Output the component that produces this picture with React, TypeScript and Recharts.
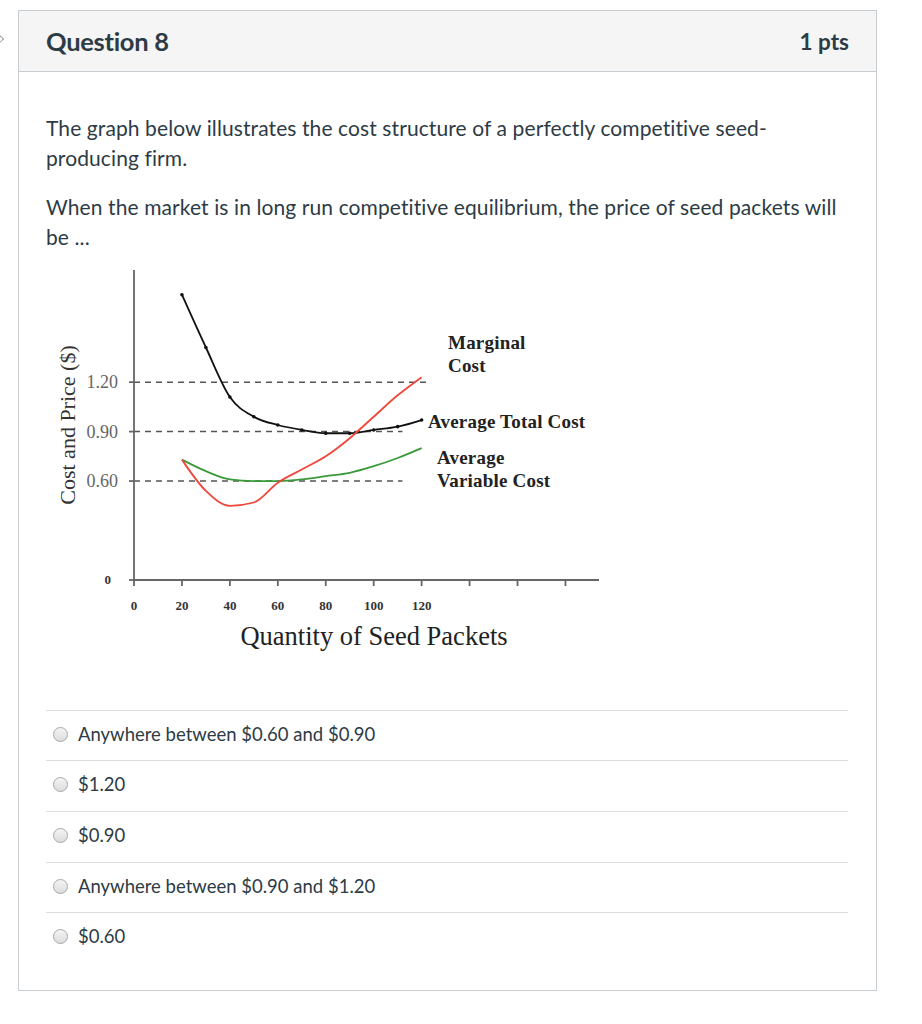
import React from "react";
import { LineChart, Line, XAxis, YAxis, ReferenceLine } from "recharts";

const quantity = [20, 30, 40, 50, 60, 70, 80, 90, 100, 110, 120];
const averageTotalCost = [1.73, 1.41, 1.11, 0.99, 0.94, 0.91, 0.89, 0.89, 0.91, 0.93, 0.97];
const marginalCost = [0.73, 0.54, 0.45, 0.47, 0.59, 0.67, 0.75, 0.86, 0.99, 1.12, 1.23];
const averageVariableCost = [0.73, 0.66, 0.61, 0.6, 0.6, 0.61, 0.63, 0.65, 0.69, 0.74, 0.8];

const xTicks = [0, 20, 40, 60, 80, 100, 120, 140, 160, 180];
const lastLabelledX = 120;
const yTicks = [0, 0.6, 0.9, 1.2];
const priceLevels = [1.2, 0.9, 0.6];
const priceLineEnds = [123, 112, 112];

const answers = [
  "Anywhere between $0.60 and $0.90",
  "$1.20",
  "$0.90",
  "Anywhere between $0.90 and $1.20",
  "$0.60",
];

const chartData = quantity.map((q, i) => ({
  q,
  atc: averageTotalCost[i],
  mc: marginalCost[i],
  avc: averageVariableCost[i],
}));

const serif = "'Liberation Serif', 'DejaVu Serif', serif";
const lato = "Lato, 'Open Sans', sans-serif";
const textColor = "#2d3b45";

const XTick = (props: any) => {
  const { x, y, payload } = props;
  if (payload.value > lastLabelledX) return null;
  return (
    <text x={x} y={y + 22} textAnchor="middle" fontFamily={serif} fontWeight="bold" fontSize={13} fill="#333">
      {payload.value}
    </text>
  );
};

const YTick = (props: any) => {
  const { x, y, payload } = props;
  if (payload.value === 0) {
    return (
      <text x={x - 7} y={y + 4} textAnchor="end" fontFamily={serif} fontWeight="bold" fontSize={13} fill="#333">
        0
      </text>
    );
  }
  return (
    <text x={x} y={y + 6} textAnchor="end" fontFamily={serif} fontSize={18} fill="#666">
      {payload.value.toFixed(2)}
    </text>
  );
};

const curveLabel: React.CSSProperties = {
  position: "absolute",
  fontFamily: serif,
  fontWeight: "bold",
  fontSize: 19,
  lineHeight: "23px",
  color: "#222",
  letterSpacing: 0.2,
  whiteSpace: "nowrap",
};

export default function App() {
  return (
    <div style={{ position: "absolute", left: 0, top: 0, width: 922, height: 1024, background: "#fff", fontFamily: lato, color: textColor }}>
      {/* little chevron cut off at the left edge */}
      <div
        style={{
          position: "absolute",
          left: -8,
          top: 34,
          width: 9,
          height: 9,
          borderTop: "1.5px solid #9aa4ab",
          borderRight: "1.5px solid #9aa4ab",
          transform: "rotate(45deg)",
        }}
      />

      {/* question card */}
      <div style={{ position: "absolute", left: 18, top: 10, width: 857, height: 979, border: "1px solid #c7cdd1" }}>
        <div
          style={{
            height: 60,
            background: "#f5f5f5",
            borderBottom: "1px solid #c7cdd1",
            display: "flex",
            alignItems: "center",
            justifyContent: "space-between",
            padding: "0 27px 0 27px",
          }}
        >
          <span style={{ fontSize: 25.5, fontWeight: 700, letterSpacing: -0.3 }}>Question 8</span>
          <span style={{ fontSize: 22.5, fontWeight: 700 }}>1 pts</span>
        </div>
      </div>

      <div style={{ position: "absolute", left: 46, top: 113, width: 830, fontSize: 21, lineHeight: "30px", letterSpacing: 0.1 }}>
        The graph below illustrates the cost structure of a perfectly competitive seed-
        <br />
        producing firm.
      </div>
      <div style={{ position: "absolute", left: 46, top: 192, width: 830, fontSize: 21, lineHeight: "30px", letterSpacing: 0.1 }}>
        When the market is in long run competitive equilibrium, the price of seed packets will
        <br />
        be ...
      </div>

      {/* chart */}
      <div style={{ position: "absolute", left: 40, top: 255 }}>
        <LineChart width={580} height={410} data={chartData} margin={{ top: 15, right: 21, left: 44, bottom: 55 }}>
          <XAxis
            dataKey="q"
            type="number"
            domain={[0, 194]}
            ticks={xTicks}
            interval={0}
            tick={<XTick />}
            tickSize={6}
            height={30}
            stroke="#666"
            strokeWidth={1.8}
            allowDataOverflow
          />
          <YAxis
            type="number"
            domain={[0, 1.88]}
            ticks={yTicks}
            interval={0}
            tick={<YTick />}
            tickSize={5}
            tickMargin={11}
            width={50}
            stroke="#666"
            strokeWidth={1.8}
            allowDataOverflow
          />
          {priceLevels.map((p, i) => (
            <ReferenceLine
              key={p}
              segment={[
                { x: 0, y: p },
                { x: priceLineEnds[i], y: p },
              ]}
              stroke="#555"
              strokeWidth={1.5}
              strokeDasharray="6 5"
            />
          ))}
          <Line
            dataKey="atc"
            type="monotone"
            stroke="#111"
            strokeWidth={1.8}
            dot={{ r: 0.9, fill: "#111", stroke: "#111" }}
            isAnimationActive={false}
          />
          <Line
            dataKey="avc"
            type="monotone"
            stroke="#3a9a3a"
            strokeWidth={1.8}
            dot={false}
            isAnimationActive={false}
          />
          <Line
            dataKey="mc"
            type="monotone"
            stroke="#f0473c"
            strokeWidth={1.8}
            dot={false}
            isAnimationActive={false}
          />
        </LineChart>
      </div>

      <div style={{ ...curveLabel, left: 448, top: 331 }}>
        Marginal
        <br />
        Cost
      </div>
      <div style={{ ...curveLabel, left: 428, top: 410 }}>Average Total Cost</div>
      <div style={{ ...curveLabel, left: 437, top: 446 }}>
        Average
        <br />
        Variable Cost
      </div>

      <div
        style={{
          position: "absolute",
          left: 68,
          top: 425,
          transform: "translate(-50%, -50%) rotate(-90deg)",
          fontFamily: serif,
          fontSize: 22,
          color: "#333",
          whiteSpace: "nowrap",
        }}
      >
        Cost and Price ($)
      </div>
      <div
        style={{
          position: "absolute",
          left: 374,
          top: 636,
          transform: "translate(-50%, -50%)",
          fontFamily: serif,
          fontSize: 26.5,
          color: "#222",
          whiteSpace: "nowrap",
        }}
      >
        Quantity of Seed Packets
      </div>

      {/* answers */}
      {answers.map((a, i) => {
        const top = [710, 760, 811, 862, 912][i];
        return (
          <div key={a} style={{ position: "absolute", left: 46, top, width: 802, height: 50, borderTop: "1.5px solid #dcdfe1" }}>
            <div
              style={{
                position: "absolute",
                left: 7,
                top: 16,
                width: 13,
                height: 13,
                borderRadius: "50%",
                border: "1px solid #a8a8a8",
                background: "linear-gradient(#f4f4f4, #dcdcdc)",
              }}
            />
            <div style={{ position: "absolute", left: 32, top: 11, fontSize: 18.5, lineHeight: "24px" }}>{a}</div>
          </div>
        );
      })}
    </div>
  );
}
